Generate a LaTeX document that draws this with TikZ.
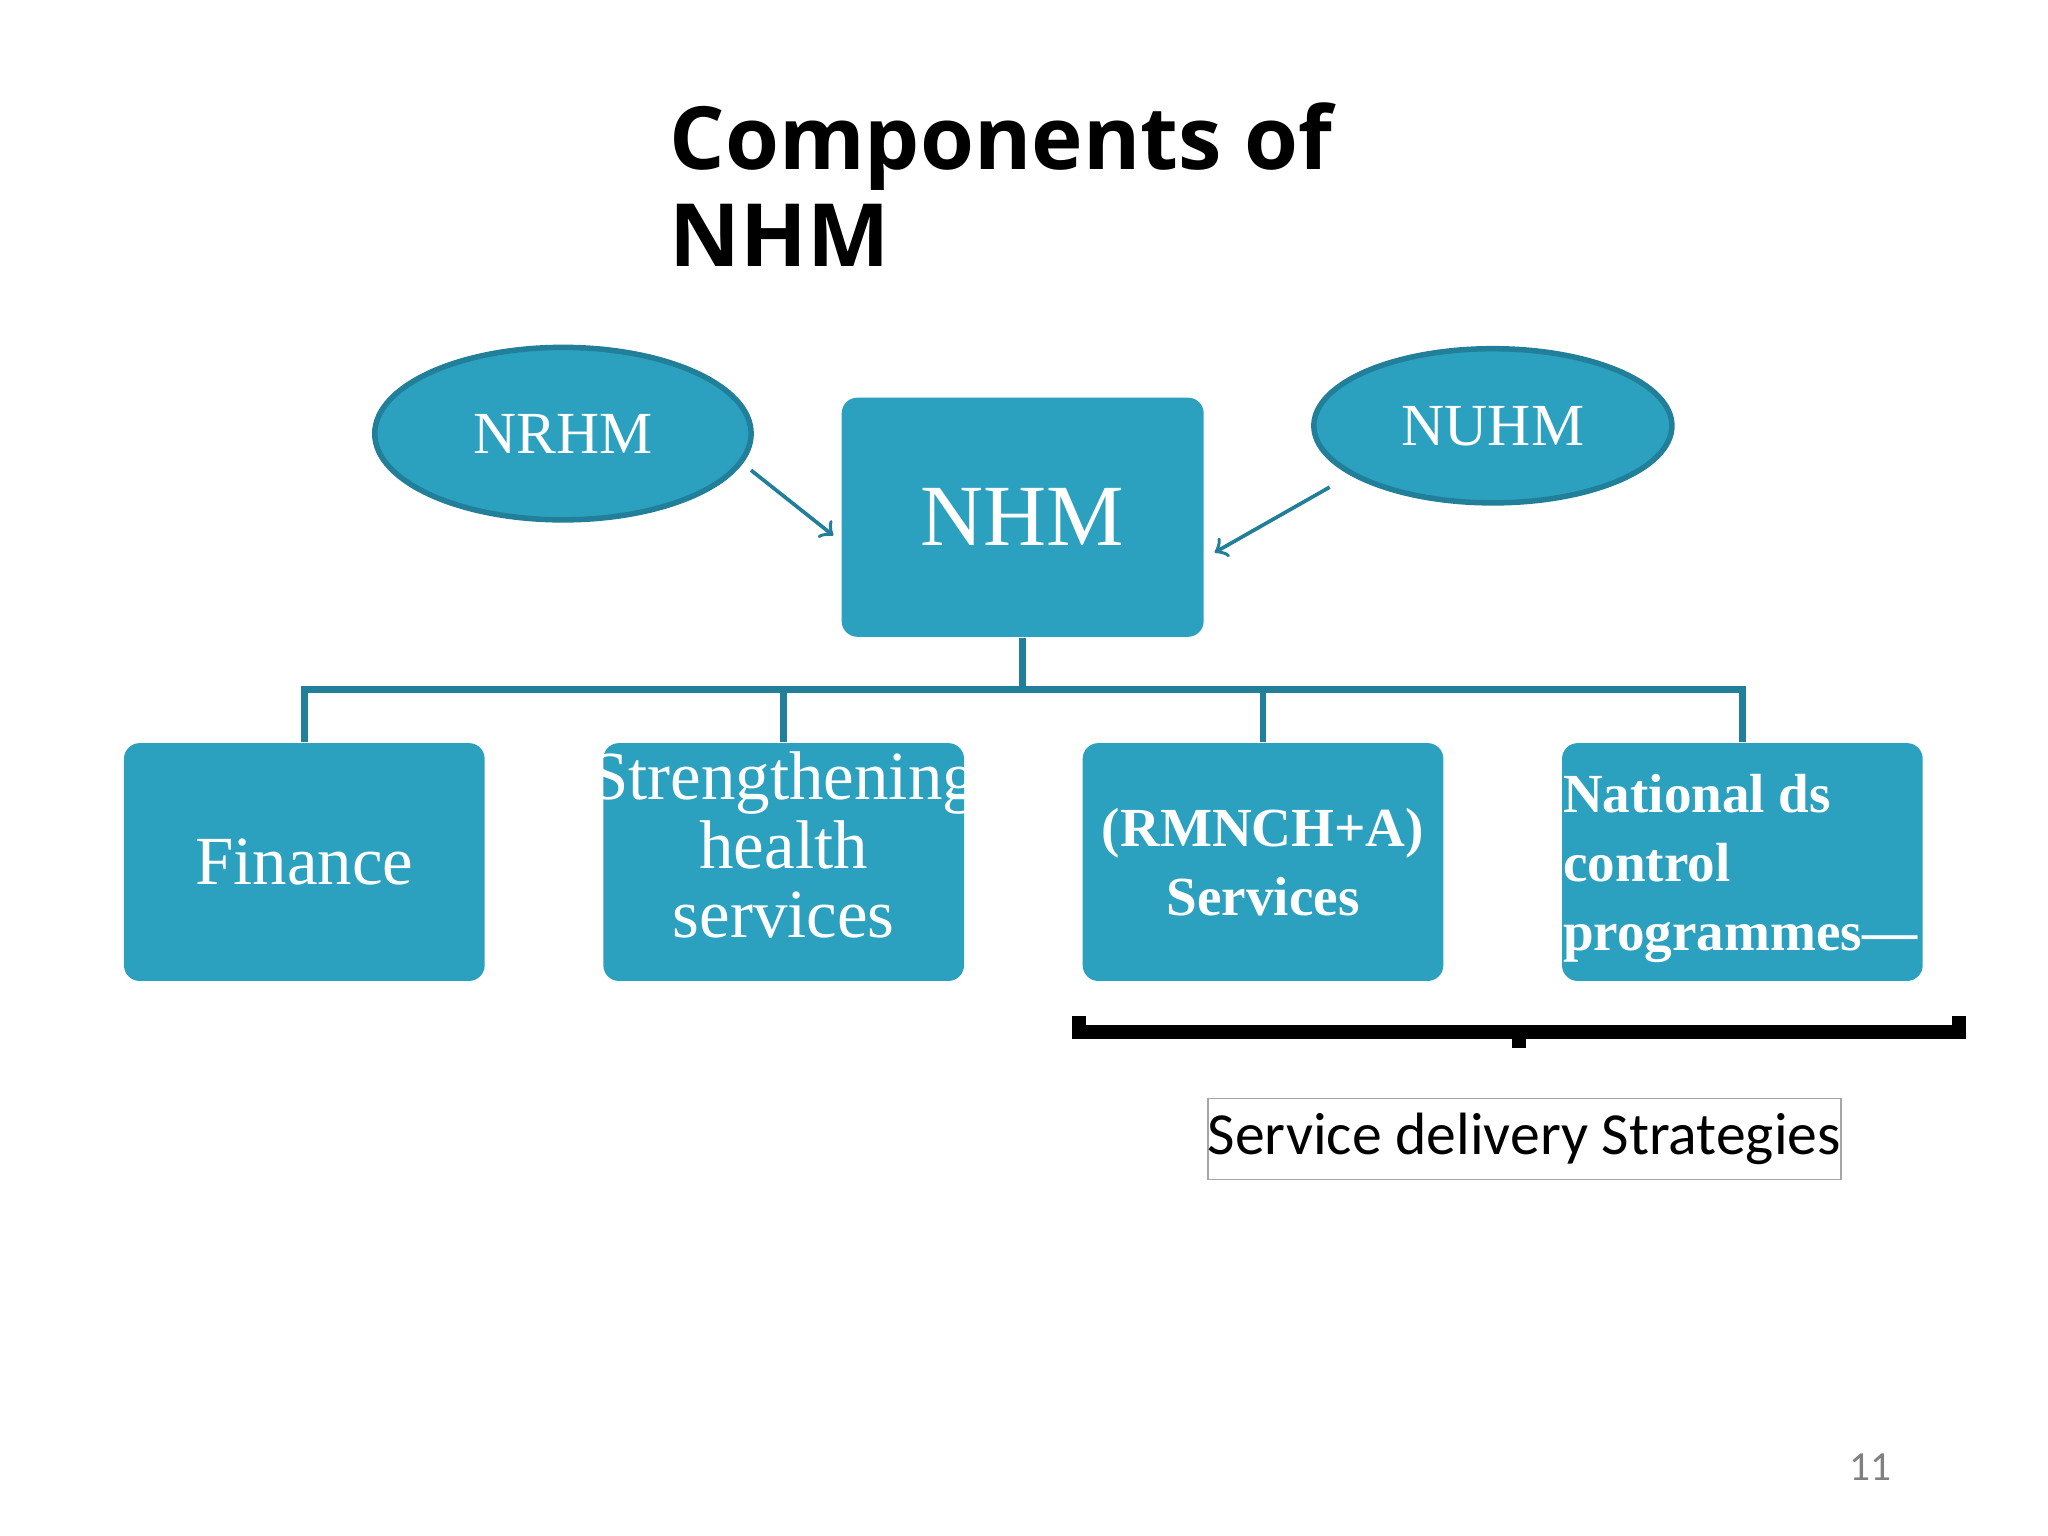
\documentclass[tikz,border=0pt]{standalone}
\usepackage{fontspec}
\setmainfont{Liberation Serif}
\newfontfamily\titlefont{Open Sans}
\newfontfamily\labelfont{Carlito}
\usetikzlibrary{positioning}
\usetikzlibrary{shapes.geometric}
\definecolor{teal}{HTML}{2CA1BF}
\definecolor{tealdark}{HTML}{217F99}
\tikzset{
  comp/.style={fill=teal,draw=none,rounded corners=0.12cm,minimum width=2.76cm,minimum height=1.82cm,text=white,inner sep=0pt},
  prog/.style={ellipse,fill=teal,draw=tealdark,line width=1.2pt,text=white},
  link/.style={draw=tealdark,line width=1.5pt},
}
\begin{document}
\begin{tikzpicture}[x=0.01cm,y=-0.01cm]
  \useasboundingbox (0,0) rectangle (1568,1176);
  \node[anchor=north west,align=left,inner sep=0pt,font=\titlefont\bfseries\fontsize{19}{21}\selectfont](title) at (512,78) {Components of\\NHM};
  \node[prog,minimum width=2.88cm,minimum height=1.32cm,font=\fontsize{13}{15}\selectfont](nrhm) at (431,332) {NRHM};
  \node[prog,minimum width=2.74cm,minimum height=1.18cm,font=\fontsize{13}{15}\selectfont](nuhm) at (1143,326) {NUHM};
  \node[comp,minimum width=2.77cm,minimum height=1.83cm,font=\fontsize{19}{21}\selectfont](nhm) at (783,396) {NHM};
  \node[comp,font=\fontsize{15}{16}\selectfont](fin) at (233,660) {Finance};
  \node[comp,align=center,font=\fontsize{15}{15}\selectfont](shs) at (600,660) {\raisebox{0pt}[0pt]{}\\[-1.2cm]};
  \node[align=center,text=white,inner sep=0pt,font=\fontsize{15}{15}\selectfont](shstext) at (600,647) {Strengthening\\health\\services};
  \node[comp,align=center,font=\bfseries\fontsize{12}{15}\selectfont](rmn) at (967,660) {(RMNCH+A)\\Services};
  \node[comp](ndcp) at (1334,660) {};
  \node[anchor=north west,align=left,text=white,inner sep=0pt,font=\bfseries\fontsize{12}{15}\selectfont](ndcptext) at (1196,592) {National ds\\control\\programmes---\\NDCPs};
  \coordinate (hub) at (783,528);
  \draw[link] (nhm.south) -- (hub);
  \draw[link] (233,568) -- (233,528) -- (1334,528) -- (1334,568);
  \draw[link] (600,528) -- (600,568);
  \draw[link] (967,528) -- (967,568);
  \draw[->,draw=tealdark,thick] (575,360) -- (638,410);
  \draw[->,draw=tealdark,thick] (1018,373) -- (930,423);
  \draw[line width=3pt] (826,778) -- (826,790) -- (1500,790) -- (1500,778);
  \draw[line width=3pt] (1163,790) -- (1163,802);
  \node[draw=gray!70,minimum width=4.46cm,minimum height=0.62cm,inner sep=0pt,font=\labelfont\fontsize{13}{15}\selectfont](sds) at (1167,872) {Service delivery Strategies};
  \node[text=gray,font=\labelfont\fontsize{9}{10}\selectfont](page) at (1432,1123) {11};
\end{tikzpicture}
\end{document}
